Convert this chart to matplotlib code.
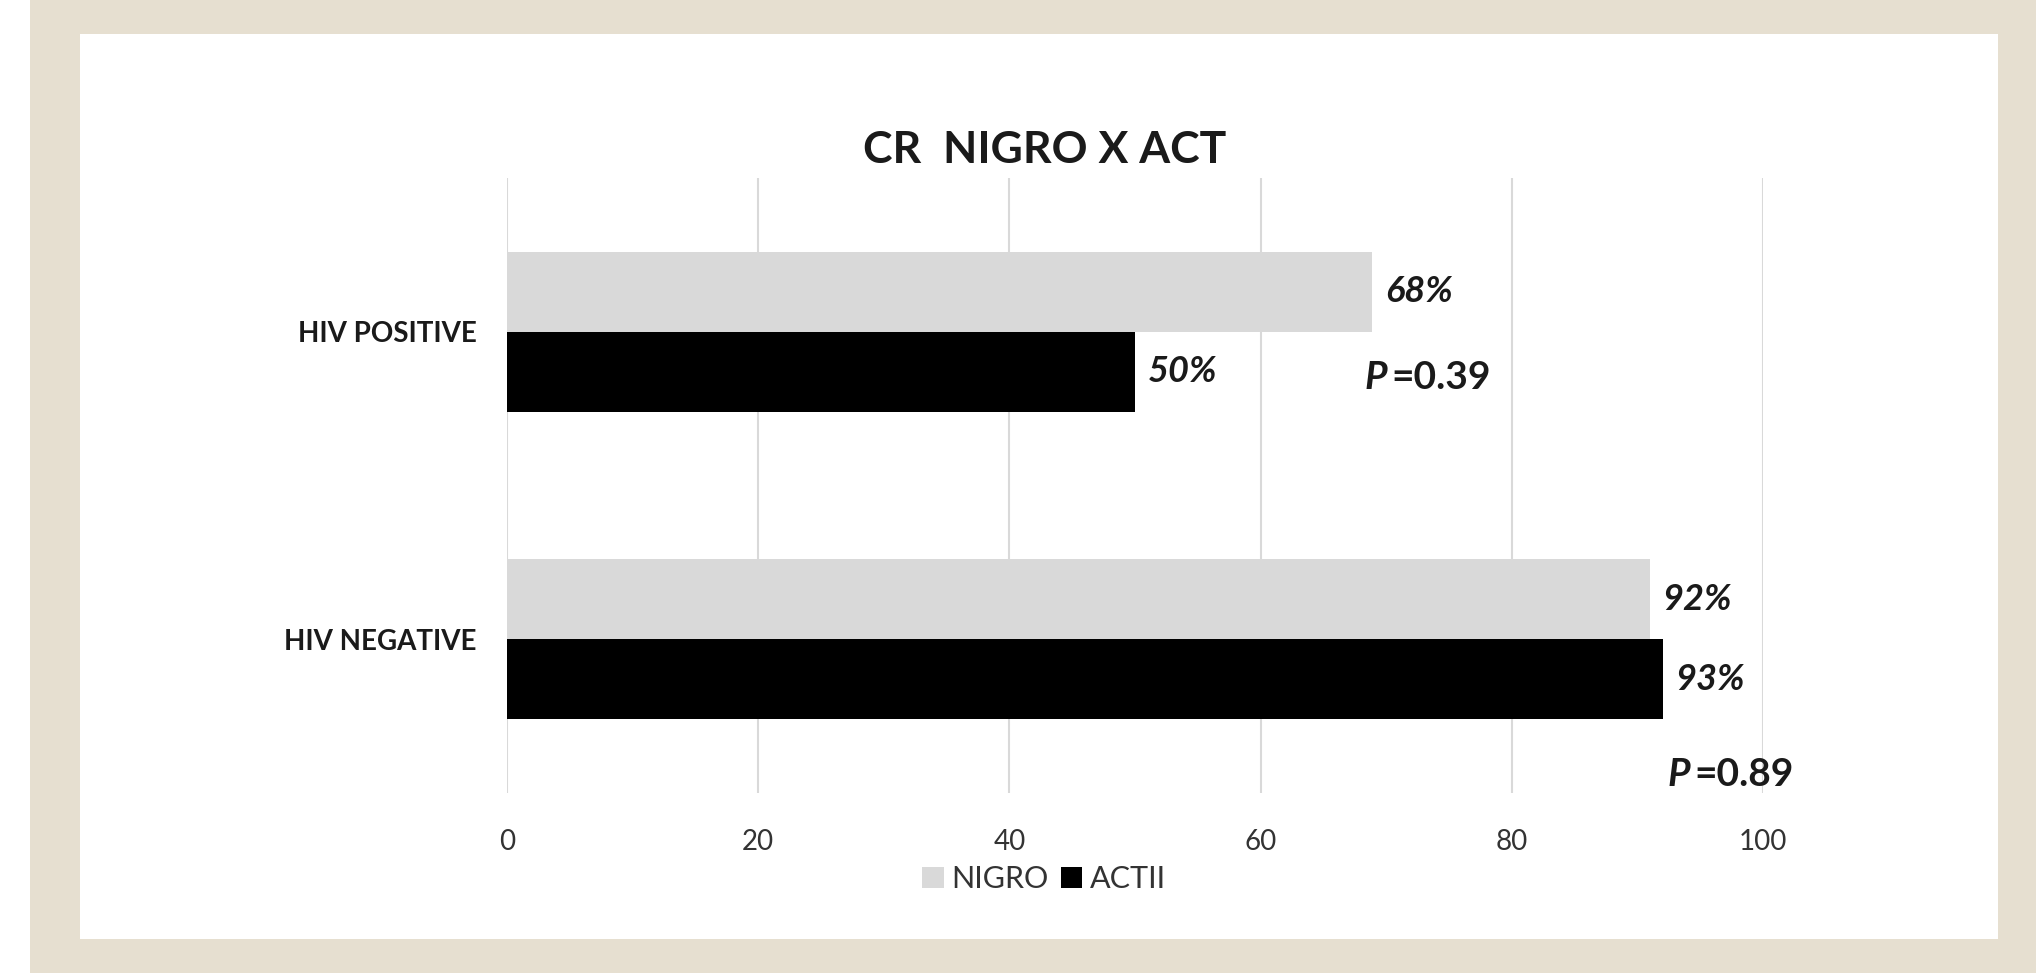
import matplotlib.pyplot as plt
from matplotlib.patches import Rectangle
import numpy as np

plt.rcParams['font.family'] = ['Lato', 'DejaVu Sans']

categories = ['HIV POSITIVE', 'HIV NEGATIVE']
nigro = [68.9, 91.0]
actii = [50.0, 92.0]
nigro_labels = ['68%', '92%']
actii_labels = ['50%', '93%']
p_values = ['=0.39', '=0.89']
p_pos = [(68.3, 0.15), (92.4, 1.44)]
xticks = [0, 20, 40, 60, 80, 100]

W, H = 2036, 973
fig = plt.figure(figsize=(W / 100, H / 100), dpi=100)
fig.patch.set_facecolor('white')

# beige frame and white panel
fig.add_artist(Rectangle((30 / W, 0), 1, 1, transform=fig.transFigure,
                         facecolor='#E6DFD0', edgecolor='none', zorder=-10))
fig.add_artist(Rectangle((80 / W, 1 - 939 / H), (1998 - 80) / W, (939 - 34) / H,
                         transform=fig.transFigure, facecolor='white',
                         edgecolor='none', zorder=-9))

ax = fig.add_axes([507 / W, 1 - 793 / H, (1763 - 507) / W, (793 - 178) / H])
ax.set_facecolor('none')

y = np.arange(len(categories))
h = 0.26
ax.barh(y - h / 2, nigro, height=h, color='#D9D9D9', label='NIGRO', zorder=2)
ax.barh(y + h / 2, actii, height=h, color='black', label='ACTII', zorder=2)

for i in range(len(categories)):
    ax.annotate(nigro_labels[i], xy=(nigro[i], y[i] - h / 2), xytext=(9, 0),
                textcoords='offset points', va='center', ha='left',
                fontsize=26, fontweight='bold', fontstyle='italic', color='#1a1a1a')
    ax.annotate(actii_labels[i], xy=(actii[i], y[i] + h / 2), xytext=(9, 0),
                textcoords='offset points', va='center', ha='left',
                fontsize=26, fontweight='bold', fontstyle='italic', color='#1a1a1a')
    t = ax.text(p_pos[i][0], p_pos[i][1], 'P', va='center', ha='left',
                fontsize=28, fontweight='bold', fontstyle='italic', color='#1a1a1a')
    ax.annotate(p_values[i], xy=(1, 0.5), xycoords=t, xytext=(3, 0),
                textcoords='offset points', va='center', ha='left',
                fontsize=28, fontweight='bold', color='#1a1a1a')

ax.set_xlim(0, 100)
ax.set_ylim(1.5, -0.5)
ax.set_xticks(xticks)
ax.set_yticks(y)
ax.set_yticklabels(categories, fontsize=20, fontweight='bold', color='#1a1a1a')
ax.tick_params(axis='x', length=0, pad=26, labelsize=20, labelcolor='#333333')
ax.tick_params(axis='y', length=0, pad=22)
ax.grid(axis='x', color='#D9D9D9', linewidth=1.5, zorder=0)
ax.set_axisbelow(True)
for s in ax.spines.values():
    s.set_visible(False)

fig.text(1045 / W, 1 - 150 / H, 'CR  NIGRO X ACT', ha='center', va='center',
         fontsize=32, fontweight='bold', color='#1a1a1a')

fig.legend(loc='center', bbox_to_anchor=(1044 / W, 1 - 879 / H), ncol=2,
           frameon=False, fontsize=22, handlelength=0.7, handleheight=0.7,
           handletextpad=0.25, columnspacing=0.4, labelcolor='#333333')

fig.savefig('out.png', dpi=100, facecolor=fig.get_facecolor())
